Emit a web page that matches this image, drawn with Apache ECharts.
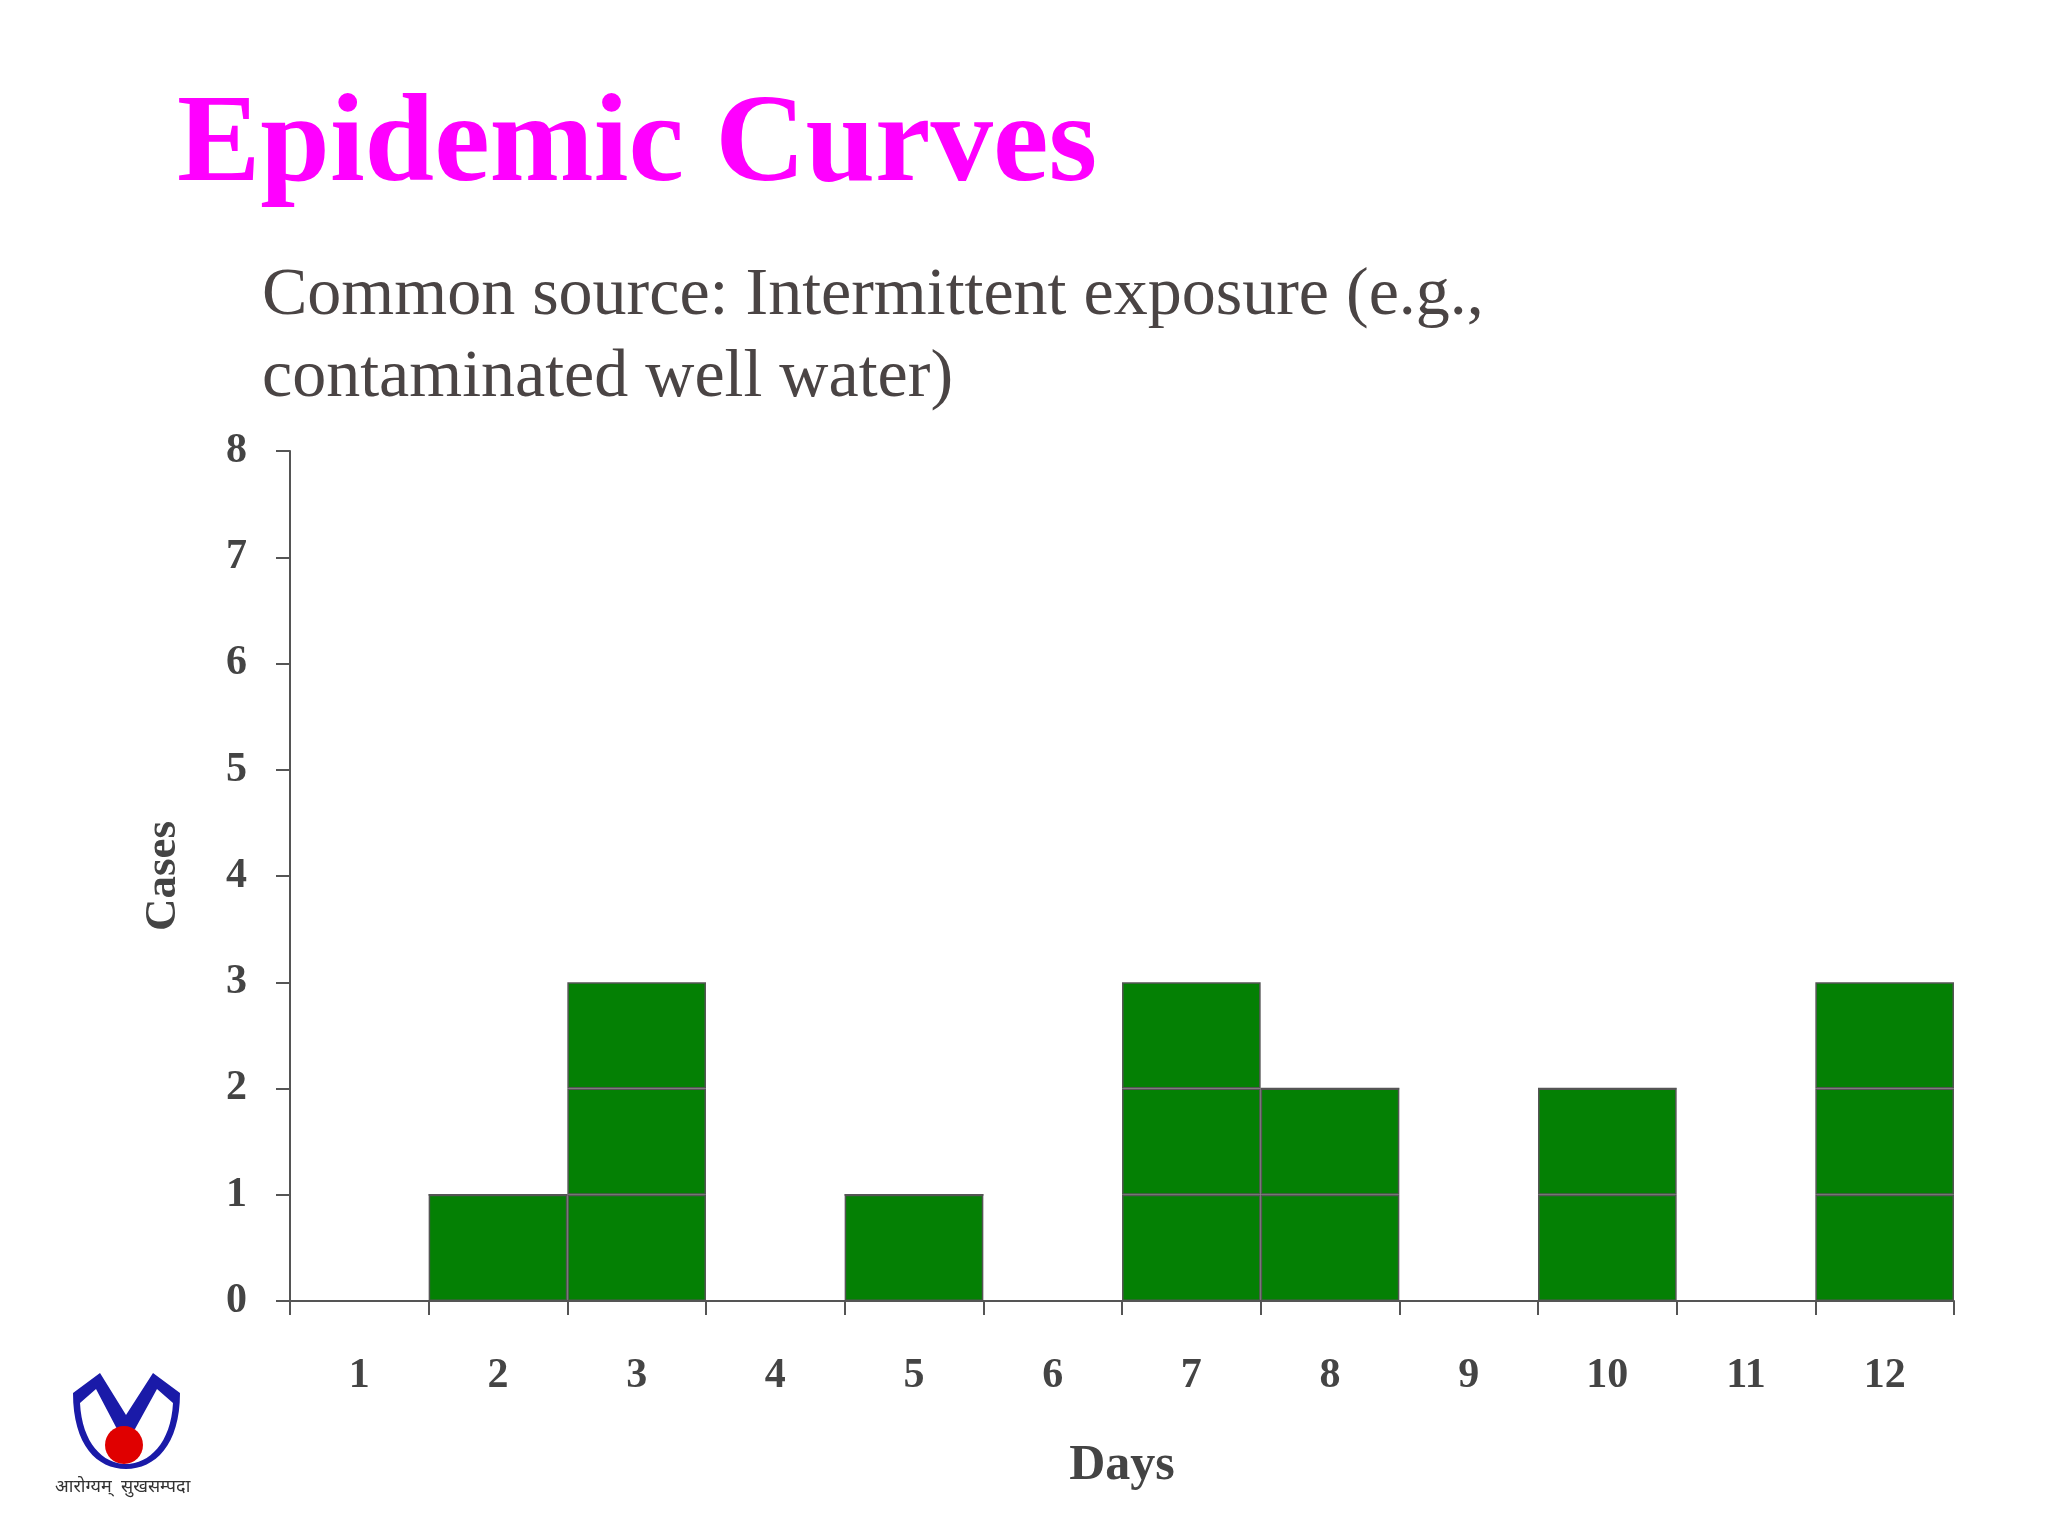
<!DOCTYPE html>
<html>
<head>
<meta charset="utf-8">
<script src="https://cdn.jsdelivr.net/npm/echarts@6/dist/echarts.min.js"></script>
<style>
  html, body { margin: 0; padding: 0; background: #fff; }
  #chart { width: 2048px; height: 1536px; }
</style>
</head>
<body>
<div id="chart"></div>
<script>
// data
const days = ["1", "2", "3", "4", "5", "6", "7", "8", "9", "10", "11", "12"];
const cases = [0, 1, 3, 0, 1, 0, 3, 2, 0, 2, 0, 3];
const yTicks = [0, 1, 2, 3, 4, 5, 6, 7, 8];

// one stacked series per case so every case gets its own box
const layers = [1, 2, 3].map((k) => ({
  type: "bar",
  stack: "cases",
  barCategoryGap: 0,
  data: cases.map((c) => (c >= k ? 1 : 0)),
  itemStyle: { color: "#048004", borderColor: "#555", borderWidth: 1.5 },
  silent: true,
}));

// logo as inline svg
const logoSvg =
  '<svg xmlns="http://www.w3.org/2000/svg" width="107" height="96" viewBox="0 0 107 96">' +
  '<path d="M0,20 L27,0 L53,42 L80,0 L107,20 C107,72 82,96 53,96 C24,96 0,72 0,20 Z" fill="#1a1aa8"/>' +
  '<path d="M7,30 C9,70 30,91 53,91 C76,91 98,70 100,30 L84,16 L62,56 L53,64 L44,56 L23,16 Z" fill="#fff"/>' +
  '<circle cx="51" cy="72" r="19" fill="#e00000"/></svg>';
const logoUrl = "data:image/svg+xml;charset=utf-8," + encodeURIComponent(logoSvg);

const serif = "'Liberation Serif', 'Times New Roman', serif";
const chart = echarts.init(document.getElementById("chart"));
chart.setOption({
  animation: false,
  backgroundColor: "#fff",
  title: [
    {
      text: "Epidemic Curves",
      left: 172,
      top: 80,
      textStyle: { fontFamily: serif, fontWeight: "bold", fontSize: 125, color: "#ff00ff" },
    },
    {
      text: "Common source: Intermittent exposure (e.g.,\ncontaminated well water)",
      left: 257,
      top: 250,
      textStyle: { fontFamily: serif, fontWeight: "normal", fontSize: 68, lineHeight: 82, color: "#4a4444" },
    },
  ],
  grid: { left: 290, right: 94, top: 451, bottom: 235 },
  xAxis: {
    type: "category",
    data: days,
    name: "Days",
    nameLocation: "middle",
    nameGap: 140,
    nameTextStyle: { fontFamily: serif, fontWeight: "bold", fontSize: 50, color: "#444" },
    axisLine: { lineStyle: { color: "#555", width: 2 } },
    axisTick: { show: true, length: 14, lineStyle: { color: "#555", width: 2 } },
    axisLabel: { margin: 54, fontFamily: serif, fontWeight: "bold", fontSize: 42, color: "#444" },
  },
  yAxis: {
    type: "value",
    min: 0,
    max: 8,
    interval: 1,
    name: "Cases",
    nameLocation: "middle",
    nameGap: 104,
    nameTextStyle: { fontFamily: serif, fontWeight: "bold", fontSize: 45, color: "#444" },
    axisLine: { show: true, lineStyle: { color: "#555", width: 2 } },
    axisTick: { show: true, length: 14, lineStyle: { color: "#555", width: 2 } },
    axisLabel: { margin: 43, fontFamily: serif, fontWeight: "bold", fontSize: 42, color: "#444",
      formatter: (v) => (yTicks.includes(v) ? String(v) : "") },
    splitLine: { show: false },
  },
  graphic: [
    { type: "image", left: 73, top: 1373, style: { image: logoUrl, width: 107, height: 96 } },
    {
      type: "text",
      left: 55,
      top: 1478,
      style: { text: "आरोग्यम्  सुखसम्पदा", fontSize: 18, fill: "#333", fontFamily: "'Noto Sans', sans-serif" },
    },
  ],
  series: layers,
});
</script>
</body>
</html>
